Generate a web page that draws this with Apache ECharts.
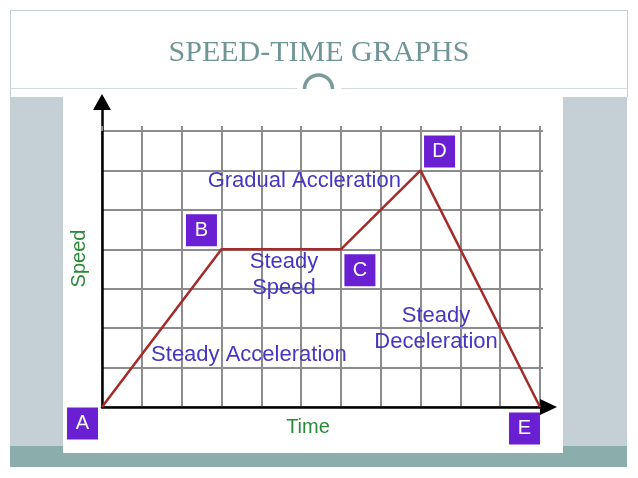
<!DOCTYPE html>
<html>
<head>
<meta charset="utf-8">
<script src="https://cdn.jsdelivr.net/npm/echarts@6/dist/echarts.min.js"></script>
<style>
  html, body { margin: 0; padding: 0; background: #ffffff; }
  #chart { width: 638px; height: 478px; }
</style>
</head>
<body>
<div id="chart"></div>
<script>
// ---- data ----
const times = [0, 3, 6, 8, 11];
const speeds = [0, 4, 4, 6, 0];
const pointLetters = ['A', 'B', 'C', 'D', 'E'];
const phaseNames = ['Steady Acceleration', 'Steady\nSpeed', 'Gradual Accleration', 'Steady\nDeceleration'];
const phaseTimes = [3.69, 4.57, 5.08, 8.39];
const phaseSpeeds = [1.32, 3.35, 5.73, 1.99];
const titleText = 'SPEED-TIME GRAPHS';
const xName = 'Time';
const yName = 'Speed';

// ---- styles ----
const letterOffsets = [[-19.5, 16.5], [-20, -19], [19, 21], [19, -19], [-15.5, 21.5]];
const gridGray = '#8c8c8c';
const sans = 'Liberation Sans';

const chart = echarts.init(document.getElementById('chart'), null, { renderer: 'canvas' });

const linePoints = times.map((t, i) => [t, speeds[i]]);

const option = {
  animation: false,
  backgroundColor: '#ffffff',
  title: {
    text: titleText,
    left: 'center',
    top: 33,
    textStyle: { fontFamily: 'Liberation Serif', fontSize: 30, fontWeight: 'normal', color: '#6f9596' }
  },
  graphic: [
    { type: 'rect', z: -10, silent: true, shape: { x: 10, y: 97, width: 617, height: 349 }, style: { fill: '#c4d0d5' } },
    { type: 'rect', z: -10, silent: true, shape: { x: 10, y: 446, width: 617, height: 21 }, style: { fill: '#8badac' } },
    { type: 'rect', z: -9, silent: true, shape: { x: 63, y: 97, width: 500, height: 356 }, style: { fill: '#ffffff' } },
    { type: 'line', z: -9, silent: true, shape: { x1: 10, y1: 10.5, x2: 628, y2: 10.5 }, style: { stroke: '#c5d0d6', lineWidth: 1 } },
    { type: 'line', z: -9, silent: true, shape: { x1: 10.5, y1: 10, x2: 10.5, y2: 97 }, style: { stroke: '#c5d0d6', lineWidth: 1 } },
    { type: 'line', z: -9, silent: true, shape: { x1: 627.5, y1: 10, x2: 627.5, y2: 97 }, style: { stroke: '#c5d0d6', lineWidth: 1 } },
    { type: 'line', z: -9, silent: true, shape: { x1: 10, y1: 88.5, x2: 297, y2: 88.5 }, style: { stroke: '#d3dbdf', lineWidth: 1 } },
    { type: 'line', z: -9, silent: true, shape: { x1: 341, y1: 88.5, x2: 627, y2: 88.5 }, style: { stroke: '#d3dbdf', lineWidth: 1 } },
    { type: 'arc', z: -8, silent: true, shape: { cx: 318.5, cy: 89, r: 14, startAngle: Math.PI, endAngle: 2 * Math.PI }, style: { stroke: '#7a9b9c', lineWidth: 3.5, fill: null } }
  ],
  grid: [
    { left: 102, right: 98, top: 131, bottom: 71 },
    { left: 102, right: 98, top: 110, bottom: 71 }
  ],
  xAxis: [
    {
      gridIndex: 0, type: 'value', min: 0, max: 11, interval: 1, position: 'bottom',
      axisLine: { show: false }, axisTick: { show: false }, axisLabel: { show: false },
      splitLine: { show: true, lineStyle: { color: gridGray, width: 2 } }
    },
    {
      gridIndex: 0, type: 'value', min: 0, max: 11, interval: 1, position: 'top',
      axisLine: { show: false, onZero: false }, axisLabel: { show: false }, splitLine: { show: false },
      axisTick: { show: true, length: 5, inside: false, lineStyle: { color: gridGray, width: 2 } }
    },
    {
      gridIndex: 1, type: 'value', min: 0, max: 11, interval: 1, position: 'bottom',
      axisLine: { show: true, symbol: ['none', 'triangle'], symbolSize: [16, 17], symbolOffset: [0, 8.5], lineStyle: { color: '#000000', width: 2.5 } },
      axisTick: { show: false }, axisLabel: { show: false }, splitLine: { show: false },
      name: xName, nameLocation: 'middle', nameGap: 10,
      nameTextStyle: { color: '#2a8a3a', fontSize: 20, fontFamily: sans, padding: [0, 26, 0, 0] }
    }
  ],
  yAxis: [
    {
      gridIndex: 0, type: 'value', min: 0, max: 7, interval: 1, position: 'left',
      axisLine: { show: false }, axisTick: { show: false }, axisLabel: { show: false },
      splitLine: { show: true, lineStyle: { color: gridGray, width: 2 } }
    },
    {
      gridIndex: 0, type: 'value', min: 0, max: 7, interval: 1, position: 'right',
      axisLine: { show: false, onZero: false }, axisLabel: { show: false }, splitLine: { show: false },
      axisTick: { show: true, length: 3, inside: false, lineStyle: { color: gridGray, width: 2 } }
    },
    {
      gridIndex: 1, type: 'value', min: 0, max: 1, position: 'left',
      axisLine: { show: true, symbol: ['none', 'triangle'], symbolSize: [18, 16], symbolOffset: [0, 8], lineStyle: { color: '#000000', width: 2.5 } },
      axisTick: { show: false }, axisLabel: { show: false }, splitLine: { show: false },
      name: yName, nameLocation: 'middle', nameGap: 13,
      nameTextStyle: { color: '#2a8a3a', fontSize: 20, fontFamily: sans }
    }
  ],
  series: [
    {
      type: 'line', xAxisIndex: 0, yAxisIndex: 0, data: linePoints, symbol: 'none', silent: true, z: 4,
      lineStyle: { color: '#a52a2a', width: 2.5 }
    },
    {
      type: 'scatter', xAxisIndex: 0, yAxisIndex: 0, silent: true, z: 6, clip: false,
      symbolSize: 1, itemStyle: { color: 'rgba(0,0,0,0)', opacity: 1 },
      data: linePoints.map((p, i) => ({
        value: p, name: pointLetters[i],
        label: { offset: letterOffsets[i] }
      })),
      label: {
        show: true, position: 'inside', formatter: '{b}', opacity: 1,
        color: '#ffffff', fontSize: 20, fontFamily: sans,
        backgroundColor: '#6a1fd2', width: 31, height: 32, lineHeight: 32,
        align: 'center', verticalAlign: 'middle'
      }
    },
    {
      type: 'scatter', xAxisIndex: 0, yAxisIndex: 0, silent: true, z: 5, clip: false,
      symbolSize: 1, itemStyle: { color: 'rgba(0,0,0,0)', opacity: 1 },
      data: phaseTimes.map((t, i) => ({ value: [t, phaseSpeeds[i]], name: phaseNames[i] })),
      label: {
        show: true, position: 'inside', formatter: '{b}', opacity: 1,
        color: '#4636c4', fontSize: 22, fontFamily: sans, lineHeight: 26,
        align: 'center', verticalAlign: 'middle'
      }
    }
  ]
};

chart.setOption(option);
</script>
</body>
</html>
